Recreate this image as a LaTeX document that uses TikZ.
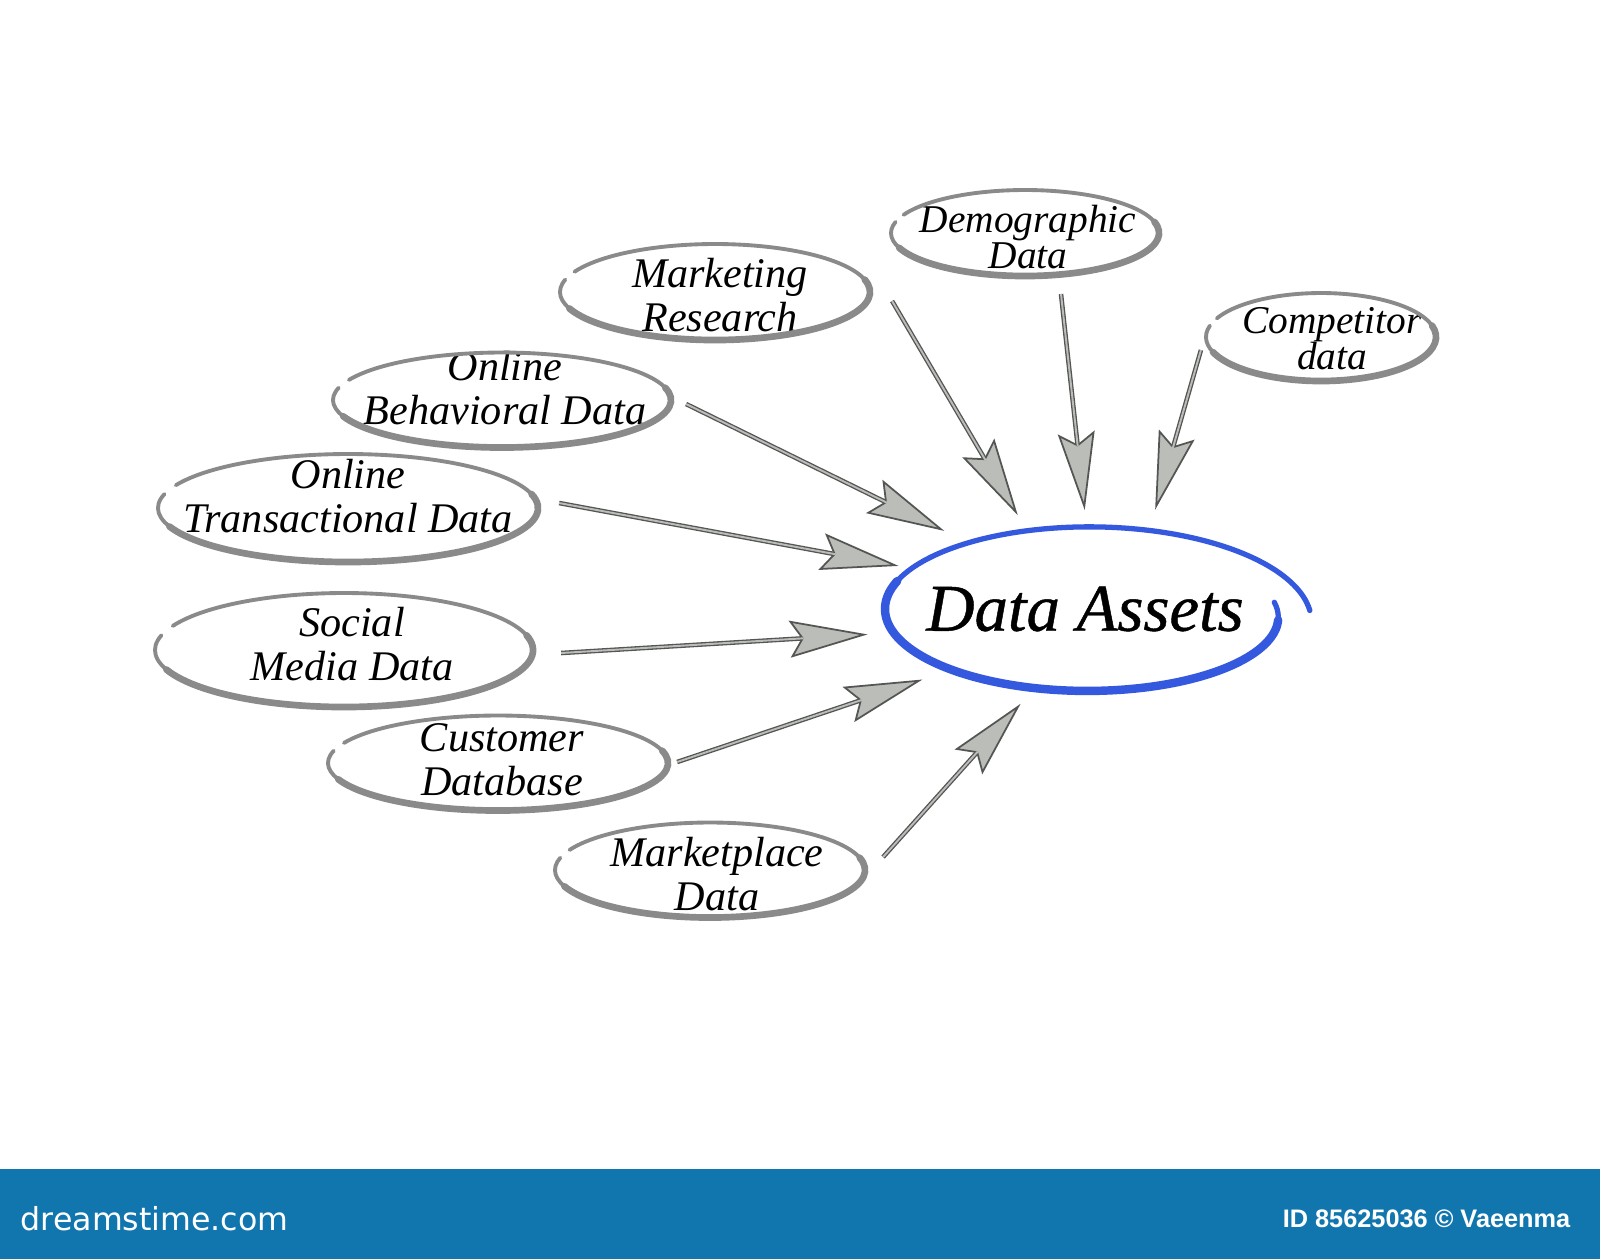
\documentclass[tikz,border=0pt]{standalone}
\usepackage{fontspec}
\setmainfont{Liberation Serif}
\newfontface\assetface[FakeBold=0.7]{Liberation Serif Italic}
\newfontfamily\logofont{DejaVu Sans}
\newfontfamily\creditfont{Liberation Sans}
\usetikzlibrary{shapes.geometric,arrows.meta}
\definecolor{penGray}{RGB}{138,138,138}
\definecolor{arrowEdge}{RGB}{84,86,84}
\definecolor{arrowFill}{RGB}{186,189,184}
\definecolor{assetBlue}{RGB}{52,88,222}
\definecolor{bannerBlue}{RGB}{18,118,174}

\begin{document}
\begin{tikzpicture}[x=0.01cm, y=-0.01cm,
  source/.style 2 args={ellipse, inner sep=0pt, outer sep=0pt, minimum width=#1, minimum height=#2},
  pen/.style={draw=penGray, line width=1.1pt, line cap=round},
  feed/.style={draw=arrowEdge, line width=1.3pt, shorten >=#1,
    -{Stealth[length=0.78cm, width=0.37cm, inset=0.12cm, fill=arrowFill, line width=0.5pt]},
    postaction={draw=arrowFill, line width=0.55pt, arrows=-, shorten >=#1+0.64cm}},
  every label/.style={align=center, inner sep=0pt, font=\fontsize{12}{12.4}\selectfont\itshape},
  tight/.style={font=\fontsize{11.2}{12}\selectfont\itshape},
  declare function={sv(\t)=(\t+175)/180; sp(\t)=sv(\t)*sv(\t)*sv(\t)*sv(\t)*sv(\t);}]
\useasboundingbox (0,0) rectangle (1600,1259);
\fill[white] (0,0) rectangle (1600,1259);

\node[source={4.04cm}{1.64cm}, label={[xshift=-0.03cm, font=\assetface\fontsize{19}{22}\selectfont]center:Data Assets}] (da) at (1088,609) {};

\node[source={3.1cm}{0.96cm}, label={[xshift=0.05cm, yshift=-0.03cm]center:Marketing\\Research}] (mr) at (715,292) {};
\node[source={2.68cm}{0.86cm}, label={[tight, xshift=0.03cm, yshift=-0.04cm]center:Demographic\\[-1.8pt]Data}] (dd) at (1025,233) {};
\node[source={2.3cm}{0.88cm}, label={[tight, xshift=0.11cm, yshift=-0.02cm]center:Competitor\\[-1.8pt]data}] (cd) at (1321,337) {};
\node[source={3.38cm}{0.95cm}, label={[xshift=0.03cm, yshift=0.12cm]center:Online\\Behavioral Data}] (ob) at (502,400) {};
\node[source={3.8cm}{1.08cm}, label={[yshift=0.12cm]center:Online\\Transactional Data}] (ot) at (348,508) {};
\node[source={3.78cm}{1.14cm}, label={[xshift=0.08cm, yshift=0.06cm]center:Social\\Media Data}] (sm) at (344,650) {};
\node[source={3.4cm}{0.95cm}, label={[xshift=0.04cm, yshift=0.03cm]center:Customer\\Database}] (cb) at (498,763) {};
\node[source={3.1cm}{0.95cm}, label={[xshift=0.07cm, yshift=-0.04cm]center:Marketplace\\Data}] (mp) at (710,870) {};

% pen strokes round the sources
\foreach \n/\rx/\ry in {mr/155/48, dd/134/43, cd/115/44, ob/169/47.5, ot/190/54, sm/189/57, cb/170/47.5, mp/155/47.5} {
  \draw[pen] (\n.center) ++({\rx*cos(205)},{\ry*sin(205)}) arc[start angle=205, end angle=555, x radius=\rx, y radius=\ry];
  \draw[pen, line width=1.9pt] (\n.center) ++({\rx*cos(-15)},{\ry*sin(-15)}) arc[start angle=-15, end angle=160, x radius=\rx, y radius=\ry];
}

\draw[shift={(da.center)}, assetBlue, line width=1.5pt, line cap=round]
  plot[domain=5:-361, samples=140, smooth] ({(203-16*sp(\x))*cos(\x)}, {-(82-4*sp(\x))*sin(\x)});
\draw[shift={(da.center)}, assetBlue, line width=2.4pt, line cap=round]
  plot[domain=-8:-200, samples=60, smooth] ({(203-16*sp(\x))*cos(\x)}, {-(82-4*sp(\x))*sin(\x)});

\foreach \src/\at/\dx/\dy/\to/\gap in {mr/east/22/9/128/0.18cm, dd/south/36/18/91/0.17cm, cd/west/-5/13/52/0.22cm,
    ob/east/15/4/151/0.27cm, ot/east/21/-5/167/0.14cm, sm/east/28/3/187/0.27cm, cb/east/9/-1/204/0.31cm, mp/east/18/-13/236/0.21cm}
  \draw[feed=\gap] ([shift={(\dx,\dy)}]\src.\at) -- (da.\to);

\fill[bannerBlue] (0,1169) rectangle (1600,1259);
\node[anchor=west, inner sep=0pt, text=white, font=\logofont\fontsize{9}{10}\selectfont] (site) at (20,1219) {dreamstime.com};
\node[anchor=east, inner sep=0pt, text=white, font=\creditfont\bfseries\fontsize{7.2}{9}\selectfont] (credit) at (1571,1219) {ID 85625036 © Vaeenma};
\end{tikzpicture}
\end{document}
